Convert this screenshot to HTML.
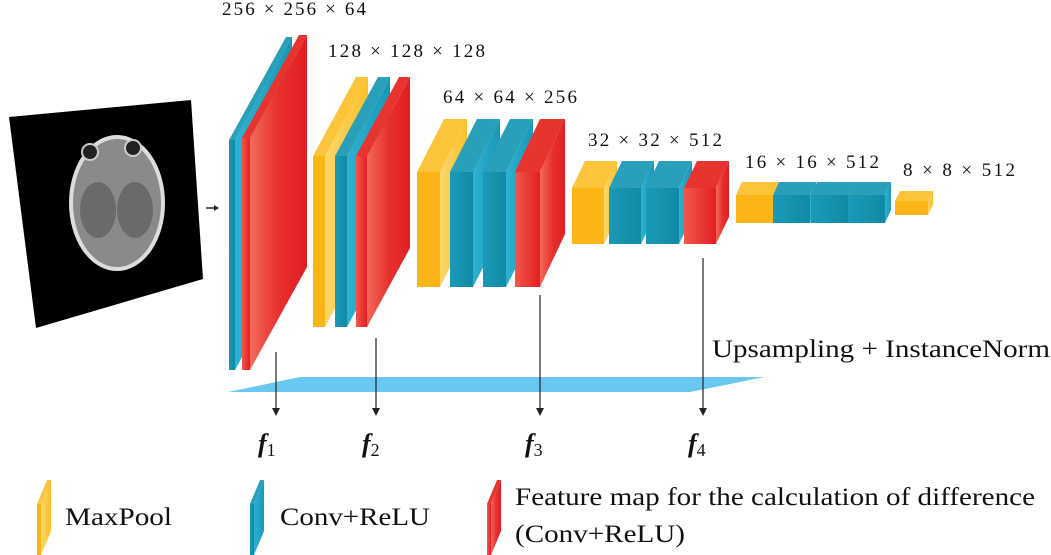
<!DOCTYPE html>
<html><head><meta charset="utf-8"><style>
body{margin:0;background:#fff;width:1051px;height:555px;overflow:hidden}
svg{display:block}
text{font-family:"Liberation Serif",serif;fill:#111}
</style></head><body>
<svg id="s" width="1051" height="555" viewBox="0 0 1051 555" xmlns="http://www.w3.org/2000/svg">
<defs>
<linearGradient id="gy" x1="0" x2="1"><stop offset="0" stop-color="#fdd76a"/><stop offset="1" stop-color="#fbbf2a"/></linearGradient>
<linearGradient id="gb" x1="0" x2="1"><stop offset="0" stop-color="#2cb2d2"/><stop offset="1" stop-color="#1a97b8"/></linearGradient>
<linearGradient id="gr" x1="0" x2="1"><stop offset="0" stop-color="#f26a58"/><stop offset="0.5" stop-color="#e8302e"/><stop offset="1" stop-color="#e01e24"/></linearGradient>
<linearGradient id="fy" x1="0" x2="1"><stop offset="0" stop-color="#fbb516"/><stop offset="1" stop-color="#fdd060"/></linearGradient>
<linearGradient id="fb" x1="0" x2="1"><stop offset="0" stop-color="#1a9ab8"/><stop offset="1" stop-color="#118aa4"/></linearGradient>
<linearGradient id="fr" x1="0" x2="1"><stop offset="0" stop-color="#f0584a"/><stop offset="1" stop-color="#e31e24"/></linearGradient>
</defs>
<polygon points="9,117 191,100 203,279 36,328" fill="#000"/>
<ellipse cx="117" cy="203" rx="46" ry="66" fill="#8a8a8a" stroke="#ddd" stroke-width="4"/>
<ellipse cx="98" cy="210" rx="18" ry="28" fill="#6a6a6a"/>
<ellipse cx="135" cy="210" rx="18" ry="28" fill="#6a6a6a"/>
<ellipse cx="90" cy="152" rx="8" ry="8" fill="#222" stroke="#ccc" stroke-width="2"/>
<ellipse cx="133" cy="148" rx="8" ry="8" fill="#222" stroke="#ccc" stroke-width="2"/>
<line x1="206" y1="208" x2="214" y2="208" stroke="#222" stroke-width="1.5"/>
<polygon points="214,205 219,208 214,211" fill="#222"/>
<polygon points="228,392 300,377 765,377 690,392" fill="#6ac8f0"/>
<g id="boxes"></g>
<g stroke="#222" stroke-width="1.2">
<line x1="276" y1="352" x2="276" y2="410"/><line x1="376" y1="338" x2="376" y2="410"/>
<line x1="540" y1="295" x2="540" y2="410"/><line x1="703" y1="258" x2="703" y2="410"/>
</g>
<g fill="#222"><polygon points="272,408 280,408 276,416"/><polygon points="372,408 380,408 376,416"/><polygon points="536,408 544,408 540,416"/><polygon points="699,408 707,408 703,416"/></g>
<g font-size="26" font-weight="bold" font-style="italic">
<text x="258" y="452">f<tspan font-size="18" font-weight="normal" font-style="normal" dy="4">1</tspan></text>
<text x="362" y="452">f<tspan font-size="18" font-weight="normal" font-style="normal" dy="4">2</tspan></text>
<text x="525" y="452">f<tspan font-size="18" font-weight="normal" font-style="normal" dy="4">3</tspan></text>
<text x="688" y="452">f<tspan font-size="18" font-weight="normal" font-style="normal" dy="4">4</tspan></text>
</g>
<g font-size="19">
<text x="222" y="15" textLength="144" lengthAdjust="spacing">256 × 256 × 64</text>
<text x="328" y="57" textLength="157" lengthAdjust="spacing">128 × 128 × 128</text>
<text x="443" y="103" textLength="134" lengthAdjust="spacing">64 × 64 × 256</text>
<text x="588" y="146" textLength="134" lengthAdjust="spacing">32 × 32 × 512</text>
<text x="745" y="168" textLength="134" lengthAdjust="spacing">16 × 16 × 512</text>
<text x="903" y="176" textLength="112" lengthAdjust="spacing">8 × 8 × 512</text>
</g>
<text x="712" y="357" font-size="25" textLength="338" lengthAdjust="spacingAndGlyphs">Upsampling + InstanceNorm</text>
<g font-size="25">
<text x="65" y="525" textLength="107" lengthAdjust="spacingAndGlyphs">MaxPool</text>
<text x="280" y="525" textLength="150" lengthAdjust="spacingAndGlyphs">Conv+ReLU</text>
<text x="515" y="505" textLength="520" lengthAdjust="spacingAndGlyphs">Feature map for the calculation of difference</text>
<text x="515" y="542" textLength="170" lengthAdjust="spacingAndGlyphs">(Conv+ReLU)</text>
</g>
</svg>
<script>
var g=document.getElementById('boxes');
var C={y:['#fbb516','#fcc43a','url(#gy)'],b:['url(#fb)','#2a9fba','url(#gb)'],r:['url(#fr)','#e8342f','url(#gr)']};
function P(pts,f){var p=document.createElementNS('http://www.w3.org/2000/svg','polygon');p.setAttribute('points',pts.map(function(a){return a.join(',')}).join(' '));p.setAttribute('fill',f);g.appendChild(p);}
function B(c,x,w,y1,y2,dx,dy){var k=C[c];
P([[x,y1],[x+w,y1],[x+w+dx,y1-dy],[x+dx,y1-dy]],k[1]);
P([[x+w,y1],[x+w+dx,y1-dy],[x+w+dx,y2-dy],[x+w,y2]],k[2]);
P([[x,y1],[x+w,y1],[x+w,y2],[x,y2]],k[0]);}
B('b',229,6,140,370,57,103);B('r',242,8,138,370,57,103);
B('y',313,12,156,327,43,79);B('b',335,12,156,327,43,79);B('r',356,11,156,327,43,79);
B('y',417,23,172,287,27,53);B('b',450,23,172,287,27,53);B('b',483,23,172,287,27,53);B('r',515,25,172,287,25,53);
B('y',572,32,188,244,13,27);B('b',609,32,188,244,13,27);B('b',646,33,188,244,13,27);B('r',684,32,188,244,13,27);
B('y',736,37,195,223,6,13);B('b',773,37,195,223,6,13);B('b',811,37,195,223,6,13);B('b',848,37,195,223,6,13);
B('y',895,33,201,215,5,10);
B('y',37,4,504,555,10,24);B('b',250,4,504,555,10,24);B('r',487,4,504,555,10,24);
</script>
</body></html>
